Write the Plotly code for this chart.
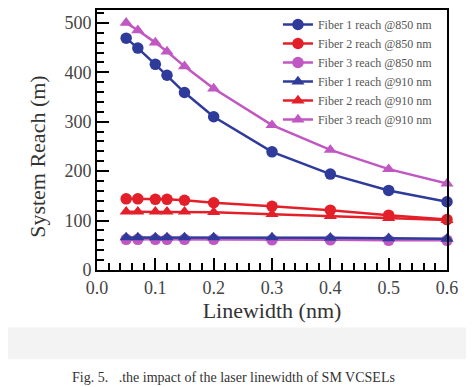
import plotly.graph_objects as go

linewidth = [0.05, 0.07, 0.1, 0.12, 0.15, 0.2, 0.3, 0.4, 0.5, 0.6]

fiber1_850 = [469, 449, 416, 394, 359, 310, 239, 194, 161, 138]
fiber2_850 = [144, 144, 143, 143, 141, 136, 129, 121, 111, 102]
fiber3_850 = [62, 62, 62, 62, 62, 62, 61, 61, 60, 60]
fiber1_910 = [66, 66, 66, 66, 66, 66, 66, 65, 64, 63]
fiber2_910 = [118, 118, 118, 118, 118, 117, 113, 109, 105, 101]
fiber3_910 = [500, 485, 460, 442, 412, 367, 293, 243, 204, 175]

BLUE = "#2f3b9a"
RED = "#e3202a"
PINK = "#c157c2"

series = [
    ("Fiber 1 reach @850 nm", fiber1_850, BLUE, "circle"),
    ("Fiber 2 reach @850 nm", fiber2_850, RED, "circle"),
    ("Fiber 3 reach @850 nm", fiber3_850, PINK, "circle"),
    ("Fiber 1 reach @910 nm", fiber1_910, BLUE, "triangle-up"),
    ("Fiber 2 reach @910 nm", fiber2_910, RED, "triangle-up"),
    ("Fiber 3 reach @910 nm", fiber3_910, PINK, "triangle-up"),
]

fig = go.Figure()
for name, ys, col, sym in series:
    fig.add_trace(go.Scatter(
        x=linewidth, y=ys, name=name, mode="lines+markers",
        line=dict(color=col, width=2.5),
        marker=dict(color=col, symbol=sym, size=11.5),
        cliponaxis=False,
    ))

SERIF = "Liberation Serif"
axis_common = dict(
    showline=True, linecolor="black", linewidth=2, mirror=True,
    ticks="inside", ticklen=12, tickwidth=2, tickcolor="black",
    showgrid=False, zeroline=False,
    tickfont=dict(family=SERIF, size=18, color="#444"),
)

fig.update_xaxes(
    range=[0, 0.6], tick0=0, dtick=0.1, tickformat=".1f",
    minor=dict(ticks="inside", ticklen=7, tickwidth=1.5, tickcolor="black", dtick=0.02),
    title=dict(text="Linewidth (nm)", font=dict(family=SERIF, size=22, color="#333"), standoff=5),
    **axis_common,
)
fig.update_yaxes(
    range=[0, 526], tick0=0, dtick=100,
    minor=dict(ticks="inside", ticklen=7, tickwidth=1.5, tickcolor="black", dtick=20),
    **axis_common,
)

# y-axis title placed as text beside the axis
fig.add_annotation(
    text="System Reach (m)", textangle=-90,
    xref="paper", yref="paper", x=-0.1686, y=0.439,
    xanchor="center", yanchor="middle", showarrow=False,
    font=dict(family=SERIF, size=22, color="#333"),
)

fig.add_shape(type="rect", xref="paper", yref="paper",
              x0=-0.3, x1=1.1, y0=-0.3435, y1=-0.2214,
              fillcolor="#f3f3f3", line=dict(width=0), layer="below")

fig.add_annotation(
    text="Fig. 5.   .the impact of the laser linewidth of SM VCSELs",
    xref="paper", yref="paper", x=0.389, y=-0.4122,
    xanchor="center", yanchor="middle", showarrow=False,
    font=dict(family=SERIF, size=14, color="#333"),
)

# The page body adds an 8px offset, so the figure is sized to fit the window.
fig.update_layout(
    width=466, height=379,
    margin=dict(l=89, r=27, t=0, b=117),
    paper_bgcolor="white", plot_bgcolor="white",
    showlegend=True,
    legend=dict(
        x=0.517, y=1.0, xanchor="left", yanchor="top",
        bgcolor="rgba(0,0,0,0)", borderwidth=0,
        font=dict(family=SERIF, size=12, color="#555"),
        tracegroupgap=0, itemwidth=30,
    ),
)

fig.write_html("out.html", config={"displayModeBar": False, "displaylogo": False})
